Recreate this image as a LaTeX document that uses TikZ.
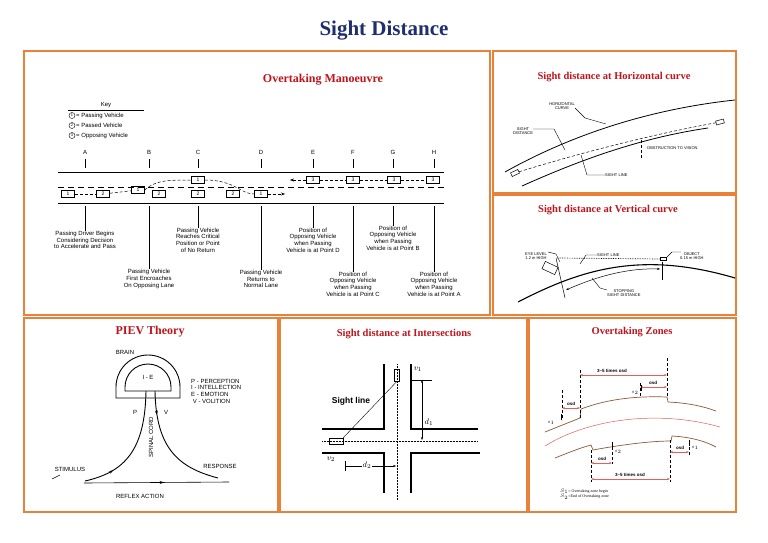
\documentclass[tikz,border=0pt]{standalone}
\usepackage{fontspec}
\setmainfont{Liberation Serif}
\setsansfont{Liberation Sans}
\usetikzlibrary{arrows.meta,decorations.markings}
\definecolor{frame}{HTML}{E8823A}
\definecolor{navy}{HTML}{1F2F6E}
\definecolor{tred}{HTML}{C0141C}
\definecolor{road}{HTML}{8A5A3A}
\definecolor{dimr}{HTML}{E06060}
\begin{document}
\begin{tikzpicture}[x=1pt,y=-1pt,
  panel/.style={draw=frame,line width=1.6pt},
  ptitle/.style={font=\bfseries\fontsize{12}{12}\selectfont,text=tred},
  lbl/.style={font=\sffamily\fontsize{6}{6.6}\selectfont,align=center,inner sep=0pt},
  tiny/.style={font=\sffamily\fontsize{4}{4.4}\selectfont,align=center,inner sep=0pt},
  keyc/.style={draw,circle,line width=0.4pt,inner sep=0.2pt,minimum size=6pt,font=\sffamily\fontsize{4}{4}\selectfont},
  veh/.style={draw,line width=0.6pt,minimum width=13pt,minimum height=7pt,inner sep=0pt,font=\sffamily\fontsize{5}{5}\selectfont},
  edge/.style={line width=1.1pt},
  dimarrow/.style={draw=dimr,line width=0.5pt,{Stealth[length=3pt]}-{Stealth[length=3pt]}},
  midarrow/.style={postaction={decorate},decoration={markings,mark=at position #1 with {\arrow{Stealth[length=4pt]}}}}
]
\useasboundingbox (0,0) rectangle (768,543);
\fill[white] (0,0) rectangle (768,543);
\node[font=\bfseries\fontsize{21}{21}\selectfont,text=navy] (title) at (384,31) {Sight Distance};
% panels
\draw[panel] (24,51) rectangle (490,315);
\draw[panel] (493,51) rectangle (736,193);
\draw[panel] (493,195) rectangle (736,315);
\draw[panel] (24,318) rectangle (278,512);
\draw[panel] (280,318) rectangle (527,512);
\draw[panel] (529,318) rectangle (736,512);
\node[ptitle] (t1) at (323,80) {Overtaking Manoeuvre};
\node[ptitle,font=\bfseries\fontsize{10.5}{10.5}\selectfont] (t2) at (614,77) {Sight distance at Horizontal curve};
\node[ptitle,font=\bfseries\fontsize{10.5}{10.5}\selectfont] (t3) at (608,210) {Sight distance at Vertical curve};
\node[ptitle] (t4) at (150,332) {PIEV Theory};
\node[ptitle,font=\bfseries\fontsize{10.5}{10.5}\selectfont] (t5) at (404,334) {Sight distance at Intersections};
\node[ptitle,font=\bfseries\fontsize{10.5}{10.5}\selectfont] (t6) at (632,332) {Overtaking Zones};

% ---------- Overtaking manoeuvre
\node[lbl] (key) at (106,105) {Key};
\draw[line width=0.5pt] (68,110) -- (144,110);
\node[keyc] (kc1) at (72,115.5) {1};
\node[keyc] (kc2) at (72,125.5) {2};
\node[keyc] (kc3) at (72,135.5) {3};
\node[lbl,anchor=west] (k1) at (76,115.5) {= Passing Vehicle};
\node[lbl,anchor=west] (k2) at (76,125.5) {= Passed Vehicle};
\node[lbl,anchor=west] (k3) at (76,135.5) {= Opposing Vehicle};
\draw[line width=0.9pt] (58,172) -- (444,172);
\draw[line width=0.9pt] (58,203) -- (444,203);
\draw[line width=0.8pt,dash pattern=on 6pt off 4pt] (58,187) -- (444,187);
\foreach \L/\x in {A/85,B/149,C/198,D/261,E/313,F/353,G/393,H/434}{
  \node[lbl] (L\L) at (\x,152) {\L};
  \draw[line width=0.5pt] (\x,159) -- (\x,168);
}
\node[veh] (v1a) at (68,194) {1};
\node[veh] (v2a) at (103,194) {2};
\node[veh] (v1b) at (138,190) {1};
\node[veh] (v2b) at (159,194) {2};
\node[veh] (v1c) at (198,180) {1};
\node[veh] (v2c) at (198,194) {2};
\node[veh] (v2d) at (233,194) {2};
\node[veh] (v1d) at (261,194) {1};
\node[veh] (v3e) at (313,180) {3};
\node[veh] (v3f) at (353,180) {3};
\node[veh] (v3g) at (394,180) {3};
\node[veh] (v3h) at (433,180) {3};
\draw[densely dashed,line width=0.5pt] (v1a) -- (v2a);
\draw[densely dashed,line width=0.5pt] (v2a) -- (v1b);
\draw[densely dashed,line width=0.5pt] (v1b.east) .. controls (155,180) and (170,180) .. (v1c.west);
\draw[densely dashed,line width=0.5pt] (v1c.east) .. controls (235,180) and (240,194) .. (v1d.west);
\coordinate (endD) at (285,194);
\draw[densely dashed,line width=0.5pt,-{Stealth[length=4pt]}] (v1d) -- (endD);
\coordinate (endE) at (290,180);
\draw[densely dashed,line width=0.5pt,-{Stealth[length=4pt]}] (v3e) -- (endE);
\draw[densely dashed,line width=0.5pt] (v3e) -- (v3f) (v3f) -- (v3g) (v3g) -- (v3h);
\node[lbl] (dA) at (85,240) {Passing Driver Begins\\Considering Decision\\to Accelerate and Pass};
\node[lbl] (dB) at (149,279) {Passing Vehicle\\First Encroaches\\On Opposing Lane};
\node[lbl] (dC) at (198,240) {Passing Vehicle\\Reaches Critical\\Position or Point\\of No Return};
\node[lbl] (dD) at (261,279) {Passing Vehicle\\Returns to\\Normal Lane};
\node[lbl] (dE) at (313,240) {Position of\\Opposing Vehicle\\when Passing\\Vehicle is at Point D};
\node[lbl] (dF) at (353,284) {Position of\\Opposing Vehicle\\when Passing\\Vehicle is at Point C};
\node[lbl] (dG) at (393,238) {Position of\\Opposing Vehicle\\when Passing\\Vehicle is at Point B};
\node[lbl] (dH) at (434,284) {Position of\\Opposing Vehicle\\when Passing\\Vehicle is at Point A};
\foreach \L/\x in {A/85,B/149,C/198,D/261,E/313,F/353,G/393,H/434}{
  \draw[line width=0.5pt] (\x,206) -- (d\L.north);
}

% ---------- Horizontal curve
\draw[line width=0.8pt] (505,172) .. controls (580,130) and (660,108) .. (735,100);
\draw[line width=0.8pt] (522,186) .. controls (580,160) and (640,138) .. (708,128);
\node[draw,line width=0.5pt,minimum width=8pt,minimum height=4pt,inner sep=0pt,rotate=25] (car1) at (515,173) {};
\node[draw,line width=0.5pt,minimum width=8pt,minimum height=4pt,inner sep=0pt,rotate=15] (car2) at (720,122) {};
\draw[densely dashed,line width=0.5pt] (car1) .. controls (590,150) and (660,133) .. (car2);
\draw[densely dashed,line width=0.6pt] (641,140) -- (641,158);
\node[tiny] (hc) at (562,106) {HORIZONTAL\\CURVE};
\draw[line width=0.4pt] (575,108) -- (585,118) -- (606,124);
\node[tiny] (sd) at (523,131) {SIGHT\\DISTANCE};
\draw[line width=0.4pt] (533,129) -- (554,129) -- (565,150);
\node[tiny,anchor=west] (ov) at (647,148) {OBSTRUCTION TO VISION};
\node[tiny,anchor=west] (sl) at (605,175) {SIGHT LINE};
\draw[line width=0.4pt] (sl.west) -- (587,175) -- (581,155);

% ---------- Vertical curve
\draw[line width=1.1pt] (518,302) .. controls (580,270) and (640,250) .. (735,278);
\draw[line width=0.5pt] (556,258) -- (565,298);
\draw[line width=0.5pt] (662,262) -- (662,280);
\node[draw,line width=0.5pt,minimum width=14pt,minimum height=8pt,inner sep=0pt,rotate=-25] (ecar) at (550,268) {};
\node[draw,line width=0.5pt,minimum width=6pt,minimum height=3pt,inner sep=0pt] (obj) at (663,259) {};
\draw[densely dotted,line width=0.7pt] (557,258) -- (obj);
\draw[line width=0.5pt,{Stealth[length=3pt]}-{Stealth[length=3pt]}] (566,290) .. controls (600,275) and (630,268) .. (660,269);
\node[tiny,anchor=west] (ey) at (525,256) {EYE LEVEL\\1.2 m HIGH};
\draw[line width=0.4pt] (548,252) -- (556,254) -- (560,262);
\node[tiny,anchor=west] (sl2) at (597,255) {SIGHT LINE};
\draw[line width=0.4pt] (sl2.west) -- (586,255) -- (580,264);
\node[tiny,anchor=west] (ob) at (680,256) {OBJECT\\0.15 m HIGH};
\draw[line width=0.4pt] (681,252) -- (672,252) -- (667,257);
\node[tiny,anchor=west] (ss) at (607,293) {STOPPING\\SIGHT DISTANCE};
\draw[line width=0.4pt] (607,290) -- (600,288) -- (592,278);

% ---------- PIEV
\node[lbl] (brain) at (125,352) {BRAIN};
\draw[line width=0.9pt] (116,398) -- (116,387) arc[start angle=180,end angle=360,radius=32] -- (180,398) -- cycle;
\draw[line width=0.9pt] (125,391) -- (125,387) arc[start angle=180,end angle=360,radius=23] -- (171,391) -- cycle;
\node[lbl] (ie) at (148,377) {I - E};
\node[lbl,anchor=north west,align=left] (leg) at (191,379) {P - PERCEPTION\\I - INTELLECTION\\E - EMOTION\\\ V - VOLITION};
\draw[line width=0.9pt,midarrow=0.25] (85,481) .. controls (125,472) and (145,450) .. (146,391);
\draw[line width=0.9pt,midarrow=0.2] (155,391) .. controls (156,450) and (180,468) .. (218,478);
\node[lbl] (P) at (135,412) {P};
\node[lbl] (V) at (166,412) {V};
\node[lbl,rotate=90] (sc) at (151,437) {SPINAL CORD};
\coordinate (rx1) at (84,483);
\coordinate (rx2) at (229,482);
\draw[line width=0.6pt,midarrow=0.55] (rx1) -- (rx2);
\node[lbl] (ra) at (140,496) {REFLEX ACTION};
\node[lbl] (st) at (70,469) {STIMULUS};
\draw[line width=0.5pt] (52,479) -- (60,475);
\node[lbl] (re) at (220,466) {RESPONSE};

% ---------- Intersections
\draw[edge] (384,364) -- (384,429) -- (322,429);
\draw[edge] (411,364) -- (411,429) -- (478,429);
\draw[edge] (322,453) -- (384,453) -- (384,493);
\draw[edge] (480,453) -- (411,453) -- (411,493);
\draw[densely dotted,line width=0.5pt] (397,364) -- (397,500);
\draw[densely dotted,line width=0.5pt] (322,441) -- (478,441);
\node[draw,line width=0.6pt,minimum width=5pt,minimum height=12pt,inner sep=0pt] (c1) at (397,375) {};
\node[draw,line width=0.6pt,minimum width=14pt,minimum height=6pt,inner sep=0pt] (c2) at (336,441) {};
\draw[line width=0.4pt] (c1.south) -- (c2.north east);
\node[font=\sffamily\bfseries\fontsize{8.5}{8.5}\selectfont] (slt) at (351,401) {Sight line};
\node[font=\fontsize{8}{8}\selectfont] (nv1) at (418,369) {$v_1$};
\draw[line width=0.4pt] (411,380) -- (432,380);
\draw[line width=0.4pt,{Stealth[length=3pt]}-{Stealth[length=3pt]}] (422,380) -- (422,440);
\node[font=\fontsize{8}{8}\selectfont] (nd1) at (429,422) {$d_1$};
\node[font=\fontsize{8}{8}\selectfont] (nv2) at (331,459) {$v_2$};
\draw[line width=0.4pt] (345,461) -- (345,471);
\draw[line width=0.4pt,-{Stealth[length=3pt]}] (345,466) -- (396,466);
\node[fill=white,inner sep=1pt,font=\fontsize{8}{8}\selectfont] (nd2) at (367,465) {$d_2$};

% ---------- Overtaking zones
\draw[road,line width=0.7pt] (545,432) .. controls (560,426) and (570,422) .. (580,418) -- (581,409) .. controls (610,398) and (640,396) .. (667,397) -- (668,402) .. controls (690,403) and (705,407) .. (716,411);
\draw[dimr,line width=0.5pt] (545,446) .. controls (590,418) and (660,410) .. (720,427);
\draw[road,line width=0.7pt] (555,458) .. controls (570,452) and (580,448) .. (591,445) -- (593,450) .. controls (620,445) and (650,441) .. (671,441) -- (672,436) .. controls (690,437) and (705,441) .. (716,447);
\foreach \x/\a/\b in {580/370/418,667/358/398,562/390/420,640/383/396,591/450/482,612/447/464,670/440/482,689/447/456}{
  \draw[densely dashed,line width=0.3pt] (\x,\a) -- (\x,\b);
}
\draw[dimarrow] (580,375) -- (667,375);
\node[tiny,font=\sffamily\bfseries\fontsize{4.5}{4.5}\selectfont] (z1) at (612,371) {3--5 times osd};
\draw[dimarrow] (640,387) -- (667,387);
\node[tiny,font=\sffamily\bfseries\fontsize{4.5}{4.5}\selectfont] (z2) at (653,383) {osd};
\draw[dimarrow] (562,408) -- (580,408);
\node[tiny,font=\sffamily\bfseries\fontsize{4.5}{4.5}\selectfont] (z3) at (571,404) {osd};
\draw[dimarrow] (591,463) -- (612,463);
\node[tiny,font=\sffamily\bfseries\fontsize{4.5}{4.5}\selectfont] (z4) at (602,459) {osd};
\draw[dimarrow] (670,452) -- (689,452);
\node[tiny,font=\sffamily\bfseries\fontsize{4.5}{4.5}\selectfont] (z5) at (680,448) {osd};
\draw[dimarrow] (591,479) -- (670,479);
\node[tiny,font=\sffamily\bfseries\fontsize{4.5}{4.5}\selectfont] (z6) at (630,475) {3--5 times osd};
\foreach \x/\y in {561/420,641/391,612/448,689/446}{
  \draw[line width=0.9pt] (\x,\y) -- (\x,\y-6);
}
\node[tiny] (s1a) at (551,423) {$s_1$};
\node[tiny] (s2a) at (635,393) {$s_2$};
\node[tiny] (s2b) at (618,452) {$s_2$};
\node[tiny] (s1b) at (695,448) {$s_1$};
\node[tiny,anchor=west,font=\fontsize{4}{4.6}\selectfont,align=left] (zl) at (560,494) {$S_1$= Overtaking zone begin\\$S_2$=End of Overtaking zone};
\end{tikzpicture}
\end{document}
